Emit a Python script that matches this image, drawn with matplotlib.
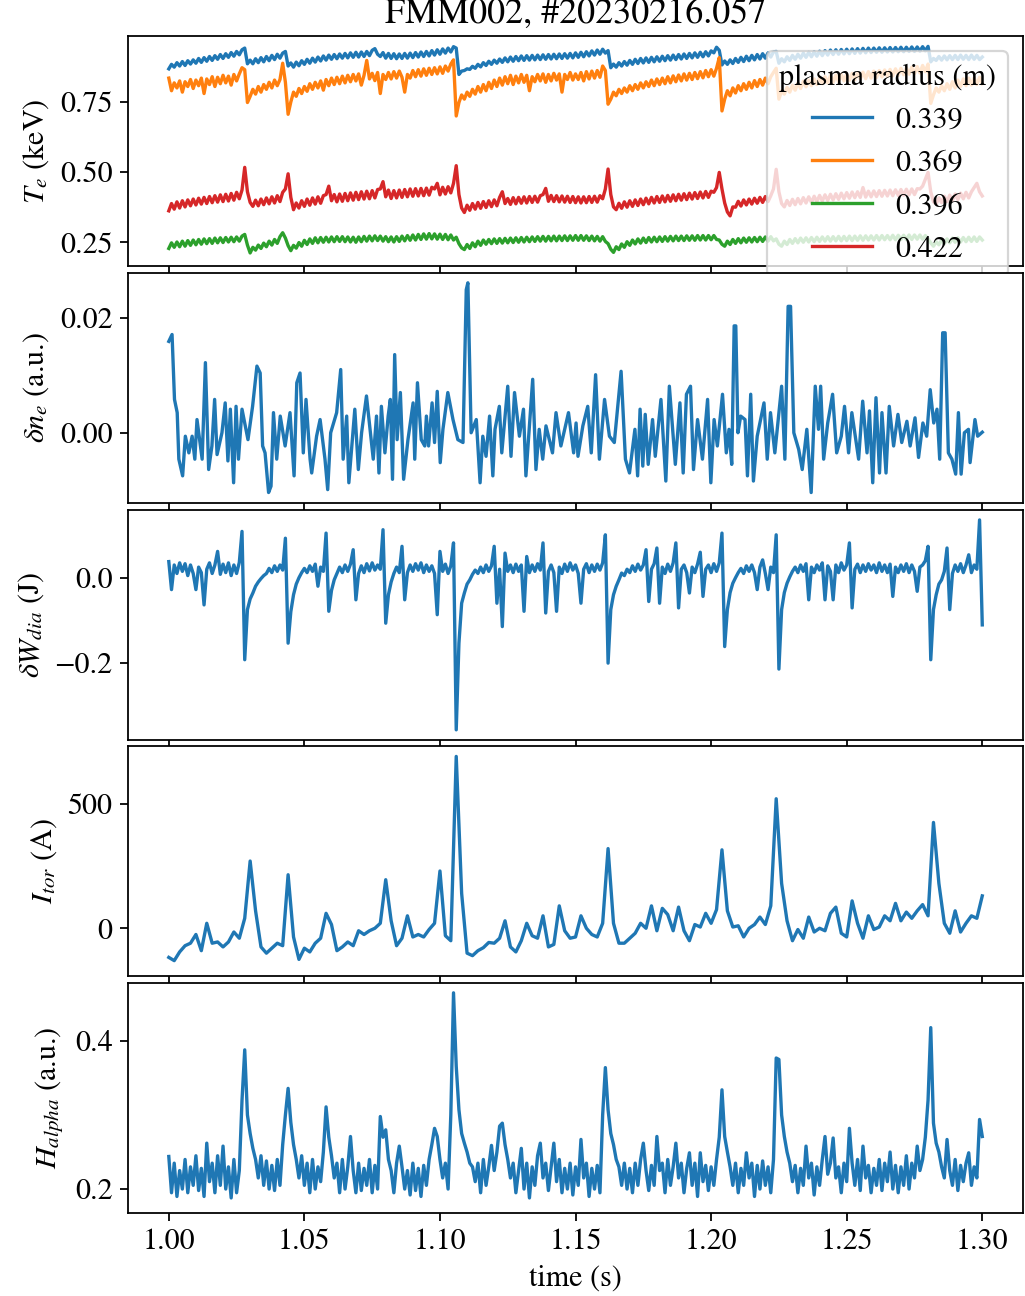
import numpy as np
import matplotlib
matplotlib.use("Agg")
import matplotlib.pyplot as plt

plt.rcParams['font.family'] = 'STIXGeneral'
plt.rcParams['mathtext.fontset'] = 'stix'
plt.rcParams['font.size'] = 13.5

# sampling grids: 1 ms for the noisy channels, 2 ms for Itor
t_fine = np.linspace(1.0, 1.3, 301)
t_grid = np.linspace(1.0, 1.3, 151)

radii = ["0.339", "0.369", "0.396", "0.422"]

te_339 = [
    0.868, 0.884, 0.874, 0.890, 0.878, 0.894, 0.880, 0.897, 0.885, 0.900,
    0.888, 0.905, 0.891, 0.908, 0.895, 0.912, 0.898, 0.915, 0.902, 0.919,
    0.905, 0.922, 0.909, 0.926, 0.913, 0.930, 0.918, 0.936, 0.942, 0.886,
    0.899, 0.886, 0.904, 0.890, 0.908, 0.893, 0.912, 0.897, 0.916, 0.901,
    0.920, 0.906, 0.924, 0.930, 0.878, 0.889, 0.874, 0.892, 0.879, 0.897,
    0.884, 0.902, 0.888, 0.906, 0.892, 0.910, 0.896, 0.914, 0.899, 0.917,
    0.902, 0.919, 0.904, 0.921, 0.906, 0.923, 0.907, 0.925, 0.909, 0.927,
    0.910, 0.928, 0.912, 0.930, 0.915, 0.934, 0.940, 0.920, 0.912, 0.926,
    0.906, 0.923, 0.905, 0.922, 0.904, 0.921, 0.905, 0.923, 0.906, 0.924,
    0.908, 0.926, 0.910, 0.928, 0.912, 0.930, 0.914, 0.933, 0.917, 0.936,
    0.920, 0.939, 0.924, 0.942, 0.928, 0.947, 0.942, 0.848, 0.860, 0.862,
    0.868, 0.866, 0.877, 0.870, 0.884, 0.875, 0.890, 0.880, 0.895, 0.884,
    0.899, 0.888, 0.903, 0.891, 0.907, 0.893, 0.910, 0.895, 0.912, 0.897,
    0.914, 0.898, 0.915, 0.899, 0.916, 0.900, 0.917, 0.901, 0.918, 0.902,
    0.919, 0.903, 0.920, 0.904, 0.921, 0.905, 0.922, 0.906, 0.923, 0.907,
    0.925, 0.909, 0.927, 0.911, 0.929, 0.914, 0.932, 0.917, 0.935, 0.920,
    0.938, 0.924, 0.933, 0.872, 0.885, 0.874, 0.890, 0.878, 0.894, 0.881,
    0.898, 0.884, 0.902, 0.887, 0.905, 0.889, 0.907, 0.891, 0.909, 0.893,
    0.911, 0.895, 0.913, 0.897, 0.915, 0.899, 0.917, 0.901, 0.919, 0.903,
    0.921, 0.905, 0.923, 0.907, 0.925, 0.909, 0.927, 0.911, 0.929, 0.914,
    0.932, 0.925, 0.945, 0.934, 0.882, 0.896, 0.884, 0.900, 0.887, 0.905,
    0.891, 0.909, 0.894, 0.913, 0.897, 0.916, 0.900, 0.919, 0.903, 0.922,
    0.906, 0.925, 0.910, 0.928, 0.930, 0.888, 0.904, 0.893, 0.911, 0.898,
    0.916, 0.902, 0.920, 0.906, 0.924, 0.909, 0.927, 0.911, 0.929, 0.913,
    0.931, 0.915, 0.933, 0.917, 0.935, 0.919, 0.936, 0.920, 0.937, 0.921,
    0.938, 0.922, 0.939, 0.923, 0.940, 0.924, 0.941, 0.925, 0.942, 0.926,
    0.942, 0.927, 0.943, 0.927, 0.943, 0.928, 0.944, 0.928, 0.944, 0.929,
    0.945, 0.929, 0.945, 0.930, 0.946, 0.930, 0.946, 0.931, 0.947, 0.932,
    0.948, 0.893, 0.905, 0.898, 0.912, 0.899, 0.914, 0.900, 0.915, 0.901,
    0.916, 0.901, 0.917, 0.902, 0.916, 0.901, 0.917, 0.902, 0.916, 0.901,
    0.910,
]
te_369 = [
    0.835, 0.790, 0.818, 0.800, 0.825, 0.785, 0.822, 0.805, 0.830, 0.798,
    0.828, 0.808, 0.835, 0.780, 0.832, 0.812, 0.840, 0.805, 0.838, 0.815,
    0.845, 0.818, 0.842, 0.810, 0.848, 0.825, 0.850, 0.872, 0.865, 0.748,
    0.770, 0.795, 0.778, 0.805, 0.785, 0.812, 0.795, 0.820, 0.800, 0.828,
    0.808, 0.830, 0.888, 0.820, 0.706, 0.750, 0.785, 0.770, 0.798, 0.780,
    0.805, 0.788, 0.815, 0.795, 0.820, 0.800, 0.825, 0.792, 0.830, 0.808,
    0.835, 0.812, 0.838, 0.815, 0.842, 0.818, 0.845, 0.822, 0.848, 0.825,
    0.850, 0.810, 0.845, 0.898, 0.832, 0.852, 0.826, 0.855, 0.780, 0.848,
    0.830, 0.855, 0.832, 0.858, 0.835, 0.860, 0.838, 0.785, 0.848, 0.835,
    0.862, 0.840, 0.865, 0.842, 0.868, 0.845, 0.870, 0.848, 0.872, 0.850,
    0.875, 0.852, 0.878, 0.860, 0.885, 0.900, 0.700, 0.748, 0.775, 0.760,
    0.785, 0.770, 0.795, 0.778, 0.805, 0.785, 0.812, 0.790, 0.820, 0.798,
    0.828, 0.805, 0.835, 0.810, 0.840, 0.815, 0.845, 0.812, 0.842, 0.818,
    0.848, 0.820, 0.845, 0.790, 0.840, 0.822, 0.848, 0.825, 0.850, 0.820,
    0.848, 0.825, 0.852, 0.828, 0.850, 0.785, 0.848, 0.830, 0.855, 0.828,
    0.850, 0.830, 0.855, 0.825, 0.858, 0.832, 0.860, 0.835, 0.862, 0.838,
    0.878, 0.862, 0.742, 0.760, 0.785, 0.772, 0.795, 0.780, 0.800, 0.785,
    0.808, 0.790, 0.812, 0.795, 0.818, 0.800, 0.822, 0.805, 0.828, 0.808,
    0.832, 0.812, 0.835, 0.815, 0.840, 0.818, 0.843, 0.822, 0.846, 0.825,
    0.850, 0.828, 0.852, 0.830, 0.855, 0.833, 0.858, 0.836, 0.862, 0.840,
    0.865, 0.842, 0.870, 0.908, 0.718, 0.760, 0.790, 0.772, 0.800, 0.782,
    0.808, 0.790, 0.815, 0.795, 0.820, 0.800, 0.826, 0.805, 0.830, 0.810,
    0.835, 0.815, 0.840, 0.855, 0.870, 0.760, 0.790, 0.778, 0.802, 0.785,
    0.810, 0.792, 0.818, 0.798, 0.824, 0.804, 0.828, 0.808, 0.832, 0.812,
    0.836, 0.815, 0.840, 0.818, 0.843, 0.820, 0.846, 0.822, 0.848, 0.825,
    0.850, 0.827, 0.852, 0.829, 0.854, 0.831, 0.856, 0.833, 0.858, 0.835,
    0.860, 0.837, 0.862, 0.839, 0.864, 0.841, 0.866, 0.843, 0.868, 0.845,
    0.870, 0.847, 0.872, 0.849, 0.874, 0.851, 0.876, 0.853, 0.880, 0.858,
    0.885, 0.745, 0.775, 0.800, 0.785, 0.808, 0.790, 0.815, 0.795, 0.822,
    0.800, 0.828, 0.805, 0.832, 0.808, 0.835, 0.810, 0.836, 0.812, 0.838,
    0.815,
]
te_396 = [
    0.228, 0.248, 0.232, 0.251, 0.234, 0.254, 0.236, 0.256, 0.239, 0.258,
    0.241, 0.260, 0.243, 0.262, 0.245, 0.263, 0.246, 0.265, 0.248, 0.266,
    0.249, 0.267, 0.251, 0.268, 0.252, 0.269, 0.254, 0.272, 0.278, 0.240,
    0.212, 0.232, 0.222, 0.240, 0.228, 0.247, 0.234, 0.254, 0.240, 0.260,
    0.246, 0.270, 0.284, 0.265, 0.238, 0.220, 0.239, 0.229, 0.249, 0.236,
    0.257, 0.242, 0.262, 0.246, 0.266, 0.248, 0.267, 0.250, 0.268, 0.251,
    0.269, 0.252, 0.270, 0.253, 0.270, 0.252, 0.269, 0.251, 0.268, 0.250,
    0.269, 0.252, 0.271, 0.254, 0.272, 0.255, 0.273, 0.256, 0.272, 0.254,
    0.270, 0.252, 0.269, 0.251, 0.270, 0.253, 0.272, 0.255, 0.274, 0.257,
    0.276, 0.258, 0.278, 0.260, 0.280, 0.261, 0.281, 0.262, 0.280, 0.261,
    0.279, 0.260, 0.278, 0.259, 0.276, 0.258, 0.268, 0.245, 0.230, 0.224,
    0.242, 0.228, 0.248, 0.234, 0.254, 0.239, 0.258, 0.243, 0.260, 0.245,
    0.262, 0.246, 0.263, 0.247, 0.264, 0.248, 0.265, 0.249, 0.266, 0.250,
    0.267, 0.251, 0.268, 0.252, 0.269, 0.253, 0.270, 0.254, 0.271, 0.254,
    0.271, 0.255, 0.272, 0.255, 0.272, 0.256, 0.273, 0.256, 0.273, 0.257,
    0.274, 0.257, 0.274, 0.257, 0.273, 0.256, 0.272, 0.255, 0.271, 0.254,
    0.270, 0.253, 0.245, 0.225, 0.214, 0.234, 0.224, 0.244, 0.232, 0.252,
    0.239, 0.258, 0.244, 0.262, 0.247, 0.265, 0.249, 0.267, 0.251, 0.268,
    0.252, 0.269, 0.253, 0.270, 0.254, 0.271, 0.255, 0.272, 0.256, 0.272,
    0.256, 0.273, 0.257, 0.273, 0.257, 0.274, 0.258, 0.274, 0.258, 0.274,
    0.259, 0.274, 0.260, 0.258, 0.243, 0.236, 0.254, 0.242, 0.260, 0.246,
    0.263, 0.248, 0.265, 0.250, 0.266, 0.251, 0.267, 0.252, 0.268, 0.253,
    0.269, 0.254, 0.270, 0.255, 0.262, 0.243, 0.236, 0.254, 0.242, 0.260,
    0.246, 0.263, 0.248, 0.265, 0.250, 0.266, 0.251, 0.267, 0.252, 0.268,
    0.253, 0.269, 0.254, 0.270, 0.254, 0.270, 0.255, 0.271, 0.255, 0.271,
    0.256, 0.272, 0.256, 0.272, 0.257, 0.273, 0.257, 0.273, 0.258, 0.273,
    0.258, 0.274, 0.258, 0.274, 0.259, 0.274, 0.259, 0.275, 0.259, 0.275,
    0.260, 0.275, 0.260, 0.276, 0.260, 0.276, 0.261, 0.276, 0.261, 0.274,
    0.262, 0.248, 0.236, 0.252, 0.241, 0.258, 0.245, 0.262, 0.248, 0.265,
    0.250, 0.266, 0.251, 0.267, 0.252, 0.268, 0.253, 0.269, 0.253, 0.269,
    0.258,
]
te_422 = [
    0.362, 0.388, 0.368, 0.394, 0.372, 0.398, 0.376, 0.401, 0.380, 0.404,
    0.383, 0.407, 0.386, 0.410, 0.388, 0.413, 0.391, 0.416, 0.393, 0.419,
    0.395, 0.421, 0.397, 0.424, 0.400, 0.428, 0.405, 0.436, 0.517, 0.430,
    0.392, 0.378, 0.400, 0.380, 0.404, 0.384, 0.408, 0.387, 0.412, 0.390,
    0.416, 0.395, 0.428, 0.440, 0.494, 0.410, 0.366, 0.390, 0.372, 0.398,
    0.378, 0.404, 0.382, 0.408, 0.386, 0.412, 0.389, 0.416, 0.420, 0.450,
    0.398, 0.420, 0.394, 0.422, 0.396, 0.424, 0.398, 0.426, 0.400, 0.428,
    0.402, 0.430, 0.404, 0.432, 0.405, 0.434, 0.408, 0.438, 0.440, 0.466,
    0.412, 0.436, 0.406, 0.434, 0.408, 0.436, 0.410, 0.438, 0.412, 0.440,
    0.414, 0.441, 0.415, 0.442, 0.416, 0.443, 0.418, 0.446, 0.440, 0.460,
    0.419, 0.446, 0.422, 0.448, 0.426, 0.460, 0.523, 0.420, 0.372, 0.356,
    0.382, 0.364, 0.388, 0.368, 0.392, 0.371, 0.395, 0.374, 0.398, 0.377,
    0.401, 0.380, 0.410, 0.430, 0.388, 0.406, 0.385, 0.409, 0.387, 0.410,
    0.389, 0.412, 0.390, 0.413, 0.392, 0.414, 0.393, 0.416, 0.420, 0.442,
    0.396, 0.417, 0.395, 0.416, 0.394, 0.415, 0.393, 0.414, 0.392, 0.413,
    0.391, 0.412, 0.390, 0.412, 0.391, 0.413, 0.392, 0.414, 0.393, 0.416,
    0.405, 0.440, 0.511, 0.420, 0.376, 0.366, 0.389, 0.371, 0.394, 0.375,
    0.398, 0.378, 0.401, 0.381, 0.404, 0.384, 0.407, 0.387, 0.410, 0.390,
    0.413, 0.392, 0.415, 0.394, 0.417, 0.396, 0.419, 0.398, 0.421, 0.400,
    0.423, 0.402, 0.425, 0.404, 0.427, 0.406, 0.429, 0.408, 0.431, 0.410,
    0.432, 0.428, 0.445, 0.499, 0.440, 0.390, 0.358, 0.344, 0.376, 0.375,
    0.396, 0.379, 0.401, 0.383, 0.404, 0.386, 0.407, 0.389, 0.410, 0.392,
    0.413, 0.395, 0.416, 0.440, 0.510, 0.430, 0.388, 0.376, 0.399, 0.381,
    0.403, 0.384, 0.406, 0.387, 0.409, 0.390, 0.412, 0.392, 0.414, 0.395,
    0.417, 0.397, 0.419, 0.399, 0.421, 0.401, 0.423, 0.403, 0.425, 0.405,
    0.427, 0.407, 0.429, 0.409, 0.430, 0.410, 0.445, 0.411, 0.432, 0.412,
    0.433, 0.413, 0.434, 0.414, 0.435, 0.415, 0.436, 0.416, 0.437, 0.417,
    0.438, 0.418, 0.439, 0.419, 0.440, 0.420, 0.441, 0.440, 0.450, 0.475,
    0.499, 0.430, 0.394, 0.386, 0.409, 0.391, 0.414, 0.395, 0.418, 0.399,
    0.422, 0.402, 0.425, 0.405, 0.428, 0.408, 0.430, 0.445, 0.460, 0.430,
    0.415,
]

# density fluctuation, read at its turning points
ne_t = [
    1.0000, 1.0012, 1.0021, 1.0031, 1.0037, 1.0051, 1.0061, 1.0074, 1.0086, 1.0096,
    1.0104, 1.0123, 1.0135, 1.0147, 1.0159, 1.0169, 1.0178, 1.0196, 1.0208, 1.0218,
    1.0227, 1.0239, 1.0248, 1.0257, 1.0270, 1.0292, 1.0309, 1.0325, 1.0337, 1.0346,
    1.0355, 1.0368, 1.0377, 1.0386, 1.0398, 1.0411, 1.0429, 1.0447, 1.0462, 1.0472,
    1.0484, 1.0496, 1.0506, 1.0521, 1.0527, 1.0545, 1.0558, 1.0576, 1.0586, 1.0597,
    1.0619, 1.0634, 1.0643, 1.0656, 1.0664, 1.0686, 1.0699, 1.0711, 1.0729, 1.0754,
    1.0766, 1.0775, 1.0784, 1.0797, 1.0809, 1.0817, 1.0825, 1.0833, 1.0842, 1.0854,
    1.0866, 1.0882, 1.0901, 1.0907, 1.0917, 1.0931, 1.0944, 1.0950, 1.0958, 1.0971,
    1.0980, 1.0990, 1.1001, 1.1011, 1.1029, 1.1048, 1.1066, 1.1085, 1.1097, 1.1103,
    1.1115, 1.1134, 1.1148, 1.1158, 1.1170, 1.1183, 1.1195, 1.1203, 1.1219, 1.1228,
    1.1250, 1.1262, 1.1275, 1.1293, 1.1308, 1.1317, 1.1342, 1.1354, 1.1366, 1.1379,
    1.1391, 1.1415, 1.1428, 1.1446, 1.1474, 1.1493, 1.1502, 1.1509, 1.1527, 1.1545,
    1.1558, 1.1574, 1.1588, 1.1607, 1.1625, 1.1643, 1.1668, 1.1684, 1.1699, 1.1719,
    1.1729, 1.1738, 1.1748, 1.1757, 1.1768, 1.1784, 1.1794, 1.1815, 1.1833, 1.1846,
    1.1868, 1.1885, 1.1897, 1.1909, 1.1924, 1.1935, 1.1950, 1.1968, 1.1987, 1.1999,
    1.2011, 1.2023, 1.2042, 1.2056, 1.2066, 1.2076, 1.2085, 1.2091, 1.2099, 1.2109,
    1.2125, 1.2134, 1.2146, 1.2156, 1.2170, 1.2195, 1.2207, 1.2219, 1.2235, 1.2260,
    1.2272, 1.2284, 1.2293, 1.2305, 1.2323, 1.2336, 1.2353, 1.2369, 1.2384, 1.2396,
    1.2404, 1.2415, 1.2430, 1.2448, 1.2463, 1.2480, 1.2492, 1.2507, 1.2519, 1.2544,
    1.2559, 1.2575, 1.2584, 1.2596, 1.2608, 1.2621, 1.2630, 1.2645, 1.2657, 1.2673,
    1.2689, 1.2703, 1.2722, 1.2734, 1.2752, 1.2765, 1.2781, 1.2795, 1.2808, 1.2821,
    1.2833, 1.2843, 1.2854, 1.2863, 1.2875, 1.2888, 1.2902, 1.2912, 1.2922, 1.2934,
    1.2949, 1.2955, 1.2973, 1.2983, 1.3000,
]
dne = [
    0.0159, 0.0171, 0.0058, 0.0035, -0.0046, -0.0075, -0.0006, -0.0035, -0.0006, -0.0046,
    0.0023, -0.0046, 0.0122, -0.0064, -0.0023, 0.0058, -0.0038, 0.0000, 0.0052, -0.0049,
    0.0041, -0.0087, 0.0046, -0.0046, 0.0041, -0.0012, 0.0046, 0.0116, 0.0104, -0.0023,
    -0.0035, -0.0104, -0.0093, 0.0035, -0.0046, 0.0029, -0.0023, 0.0035, -0.0075, 0.0087,
    0.0104, -0.0035, 0.0058, -0.0046, -0.0070, -0.0006, 0.0023, -0.0046, -0.0099, 0.0000,
    0.0035, 0.0110, -0.0046, 0.0029, -0.0087, 0.0041, -0.0064, 0.0000, 0.0064, -0.0046,
    0.0029, -0.0070, 0.0046, -0.0035, 0.0029, 0.0058, -0.0081, 0.0136, -0.0012, 0.0070,
    -0.0081, -0.0012, 0.0052, -0.0046, 0.0087, -0.0012, -0.0023, 0.0029, -0.0023, 0.0052,
    -0.0017, 0.0072, -0.0052, 0.0006, 0.0070, 0.0023, -0.0012, -0.0017, 0.0249, 0.0261,
    0.0000, 0.0023, -0.0087, -0.0006, -0.0041, 0.0029, -0.0075, 0.0006, 0.0046, -0.0035,
    0.0081, -0.0041, 0.0070, -0.0006, 0.0041, -0.0075, 0.0093, -0.0064, 0.0006, -0.0046,
    0.0012, -0.0035, 0.0035, -0.0023, 0.0035, -0.0035, 0.0017, -0.0041, 0.0012, 0.0046,
    -0.0035, 0.0101, -0.0046, 0.0058, -0.0006, -0.0017, 0.0107, -0.0046, -0.0070, 0.0006,
    -0.0075, 0.0041, -0.0058, 0.0032, -0.0055, 0.0023, -0.0041, 0.0058, -0.0084, 0.0081,
    -0.0055, 0.0052, -0.0070, 0.0067, 0.0081, -0.0064, 0.0023, -0.0046, 0.0058, -0.0087,
    0.0023, -0.0023, 0.0067, -0.0035, 0.0006, -0.0055, 0.0186, 0.0186, 0.0000, 0.0029,
    0.0023, -0.0075, 0.0067, -0.0084, -0.0006, 0.0052, -0.0046, 0.0035, -0.0035, 0.0081,
    -0.0046, 0.0220, 0.0220, 0.0000, -0.0029, -0.0064, 0.0006, -0.0104, 0.0081, 0.0006,
    0.0081, -0.0046, 0.0017, 0.0067, -0.0035, -0.0006, 0.0046, -0.0035, 0.0035, -0.0046,
    0.0055, -0.0035, 0.0038, -0.0087, 0.0061, -0.0070, 0.0035, -0.0070, 0.0046, -0.0023,
    0.0032, -0.0017, 0.0020, -0.0023, 0.0026, -0.0043, 0.0017, -0.0006, 0.0075, 0.0017,
    0.0041, -0.0046, 0.0174, 0.0174, -0.0035, -0.0046, -0.0072, 0.0035, -0.0072, 0.0000,
    0.0006, -0.0052, 0.0023, -0.0006, 0.0001,
]

dw_dia = [
    0.038, -0.028, 0.030, 0.010, 0.035, 0.015, 0.033, 0.005, 0.030, 0.010,
    -0.028, 0.025, 0.012, -0.064, 0.020, 0.035, 0.010, 0.030, 0.062, 0.008,
    0.032, 0.012, 0.035, 0.005, 0.030, 0.010, 0.036, 0.109, -0.193, -0.075,
    -0.050, -0.036, -0.020, -0.010, -0.002, 0.005, 0.010, 0.022, 0.012, 0.028,
    0.015, 0.030, 0.018, 0.093, -0.154, -0.080, -0.040, -0.015, 0.000, 0.012,
    0.022, 0.012, 0.028, 0.015, 0.032, -0.020, 0.025, 0.015, 0.105, -0.079,
    -0.030, -0.005, 0.010, 0.025, 0.012, 0.030, 0.015, 0.032, 0.066, -0.052,
    0.010, 0.028, 0.012, 0.033, 0.016, 0.035, 0.018, 0.030, 0.020, 0.113,
    -0.107, -0.040, -0.010, 0.010, 0.025, 0.012, 0.074, -0.052, 0.012, 0.030,
    0.015, 0.033, 0.018, 0.035, 0.012, 0.030, 0.015, 0.028, 0.010, -0.087,
    0.062, 0.015, 0.032, 0.010, 0.028, 0.082, -0.358, -0.154, -0.060, -0.036,
    -0.015, -0.005, 0.008, 0.018, 0.010, 0.025, 0.012, 0.030, 0.015, 0.028,
    0.074, -0.060, 0.020, -0.115, 0.058, 0.015, 0.030, 0.012, 0.032, 0.015,
    0.030, -0.079, 0.050, 0.012, 0.030, 0.015, 0.033, 0.018, 0.082, -0.083,
    0.015, 0.030, 0.012, -0.079, 0.025, 0.010, 0.032, 0.015, 0.035, 0.018,
    0.030, 0.010, -0.060, 0.020, 0.033, 0.012, 0.030, 0.015, 0.032, 0.018,
    0.035, 0.101, -0.201, -0.075, -0.040, -0.020, -0.005, 0.011, 0.005, 0.020,
    0.012, 0.028, 0.015, 0.032, 0.018, 0.030, 0.066, -0.056, 0.020, 0.033,
    0.070, -0.060, 0.025, 0.010, 0.032, 0.015, 0.035, 0.082, -0.071, 0.020,
    0.030, 0.012, -0.036, 0.025, 0.012, 0.032, 0.060, -0.044, 0.020, 0.030,
    0.012, 0.033, 0.015, 0.035, 0.105, -0.162, -0.075, -0.035, -0.013, 0.000,
    0.012, 0.022, 0.010, 0.028, 0.015, 0.030, 0.012, -0.028, 0.025, 0.042,
    0.010, -0.028, 0.025, 0.012, 0.101, -0.215, -0.075, -0.035, -0.013, 0.002,
    0.015, 0.025, 0.012, 0.030, 0.015, 0.033, -0.052, 0.025, 0.012, 0.030,
    0.018, 0.035, -0.052, 0.028, 0.015, -0.052, 0.030, 0.012, 0.035, 0.018,
    0.030, 0.082, -0.071, 0.020, 0.032, 0.012, 0.030, 0.015, 0.033, 0.018,
    0.030, 0.012, 0.035, 0.015, 0.030, 0.012, 0.032, -0.044, 0.025, 0.012,
    0.030, 0.015, 0.033, 0.012, 0.030, 0.015, -0.032, 0.025, 0.030, 0.040,
    0.074, -0.193, -0.075, -0.040, -0.015, -0.005, 0.015, 0.070, -0.075, 0.010,
    0.030, 0.015, 0.033, 0.012, 0.030, 0.054, 0.012, 0.030, 0.020, 0.136,
    -0.111,
]

i_tor = [
    -117, -130, -95, -70, -60, -25, -90, 20, -60, -55,
    -75, -55, -15, -40, 40, 270, 70, -75, -100, -80,
    -60, -70, 215, -35, -125, -80, -95, -60, -40, 60,
    15, -90, -75, -55, -70, -10, -25, -10, 0, 20,
    195, 30, -70, -40, 50, -35, -25, -35, -5, 20,
    230, -30, -50, 690, 140, -100, -110, -90, -78, -57,
    -60, -40, 30, -75, -95, -50, 20, -30, -40, 50,
    -75, -65, 90, -10, -40, -35, 50, 0, -25, -35,
    20, 320, 20, -60, -60, -40, -20, 20, 0, 90,
    -10, 80, 55, -10, 85, -10, -50, 15, 5, 60,
    20, 75, 315, 70, 5, 10, -35, 0, 15, 45,
    15, 90, 520, 180, 30, -50, -5, -40, 45, -15,
    0, -10, 60, 85, -20, -35, 110, 20, -40, 50,
    -5, 5, 50, 30, 100, 30, 65, 40, 70, 95,
    50, 425, 180, 20, -20, 70, -15, 20, 50, 40,
    130,
]

h_alpha = [
    0.244, 0.195, 0.235, 0.190, 0.225, 0.200, 0.240, 0.195, 0.230, 0.205,
    0.245, 0.198, 0.228, 0.190, 0.262, 0.210, 0.235, 0.195, 0.245, 0.205,
    0.258, 0.200, 0.230, 0.188, 0.240, 0.195, 0.225, 0.320, 0.388, 0.300,
    0.275, 0.255, 0.240, 0.215, 0.245, 0.205, 0.238, 0.200, 0.232, 0.198,
    0.240, 0.205, 0.260, 0.300, 0.336, 0.290, 0.260, 0.240, 0.215, 0.245,
    0.205, 0.235, 0.195, 0.240, 0.200, 0.230, 0.210, 0.250, 0.311, 0.270,
    0.245, 0.215, 0.235, 0.195, 0.240, 0.200, 0.230, 0.271, 0.225, 0.195,
    0.235, 0.198, 0.228, 0.205, 0.240, 0.195, 0.232, 0.200, 0.298, 0.270,
    0.280, 0.240, 0.225, 0.195, 0.235, 0.258, 0.230, 0.200, 0.225, 0.192,
    0.235, 0.198, 0.228, 0.190, 0.232, 0.205, 0.240, 0.260, 0.282, 0.271,
    0.240, 0.215, 0.235, 0.200, 0.300, 0.465, 0.366, 0.307, 0.275, 0.262,
    0.250, 0.235, 0.230, 0.210, 0.235, 0.195, 0.240, 0.205, 0.230, 0.259,
    0.225, 0.250, 0.285, 0.289, 0.260, 0.240, 0.215, 0.235, 0.195, 0.225,
    0.255, 0.200, 0.235, 0.188, 0.230, 0.205, 0.245, 0.262, 0.215, 0.235,
    0.198, 0.230, 0.262, 0.210, 0.240, 0.195, 0.228, 0.200, 0.235, 0.192,
    0.230, 0.205, 0.267, 0.215, 0.235, 0.190, 0.228, 0.200, 0.232, 0.195,
    0.300, 0.364, 0.307, 0.275, 0.260, 0.240, 0.230, 0.205, 0.235, 0.200,
    0.228, 0.195, 0.235, 0.205, 0.240, 0.262, 0.225, 0.198, 0.232, 0.205,
    0.271, 0.225, 0.235, 0.195, 0.240, 0.205, 0.230, 0.262, 0.215, 0.235,
    0.195, 0.228, 0.249, 0.205, 0.235, 0.190, 0.249, 0.210, 0.232, 0.198,
    0.230, 0.205, 0.240, 0.270, 0.334, 0.271, 0.250, 0.230, 0.205, 0.235,
    0.195, 0.228, 0.205, 0.249, 0.215, 0.235, 0.190, 0.232, 0.200, 0.238,
    0.205, 0.230, 0.195, 0.240, 0.377, 0.375, 0.300, 0.271, 0.250, 0.235,
    0.210, 0.232, 0.195, 0.228, 0.205, 0.258, 0.215, 0.235, 0.192, 0.230,
    0.205, 0.240, 0.271, 0.220, 0.235, 0.269, 0.215, 0.230, 0.195, 0.235,
    0.210, 0.282, 0.235, 0.205, 0.240, 0.198, 0.258, 0.215, 0.232, 0.195,
    0.228, 0.205, 0.240, 0.198, 0.235, 0.210, 0.250, 0.200, 0.232, 0.195,
    0.230, 0.205, 0.245, 0.200, 0.235, 0.215, 0.258, 0.225, 0.240, 0.270,
    0.320, 0.418, 0.289, 0.262, 0.250, 0.230, 0.215, 0.267, 0.225, 0.205,
    0.240, 0.198, 0.232, 0.210, 0.235, 0.249, 0.205, 0.230, 0.215, 0.294,
    0.271,
]

colors = ['#1f77b4', '#ff7f0e', '#2ca02c', '#d62728']

fig, axes = plt.subplots(5, 1, sharex=True, figsize=(1025 / 160, 1296 / 160), dpi=160)
fig.subplots_adjust(left=0.125, right=0.998, top=0.972, bottom=0.064, hspace=0.03)

ax = axes[0]
for vals, lab, c in zip([te_339, te_369, te_396, te_422], radii, colors):
    ax.plot(t_fine, vals, color=c, label=lab)
ax.set_ylim(0.165, 0.984)
ax.set_ylabel("$T_e$ (keV)")
ax.set_title("FMM002, #20230216.057")
ax.legend(title="plasma radius (m)", loc="upper right")

ax = axes[1]
ax.plot(ne_t, dne, color=colors[0])
ax.set_ylim(-0.0122, 0.0278)
ax.set_ylabel(r"$\delta n_e$ (a.u.)")

ax = axes[2]
ax.plot(t_fine, dw_dia, color=colors[0])
ax.set_ylim(-0.381, 0.16)
ax.set_ylabel(r"$\delta W_{dia}$ (J)")

ax = axes[3]
ax.plot(t_grid, i_tor, color=colors[0])
ax.set_ylim(-193, 730)
ax.set_ylabel("$I_{tor}$ (A)")

ax = axes[4]
ax.plot(t_fine, h_alpha, color=colors[0])
ax.set_ylim(0.1676, 0.478)
ax.set_ylabel("$H_{alpha}$ (a.u.)")
ax.set_xlabel("time (s)")
ax.set_xlim(0.985, 1.315)
ax.set_xticks([1.00, 1.05, 1.10, 1.15, 1.20, 1.25, 1.30])

fig.savefig("out.png", dpi=160)
